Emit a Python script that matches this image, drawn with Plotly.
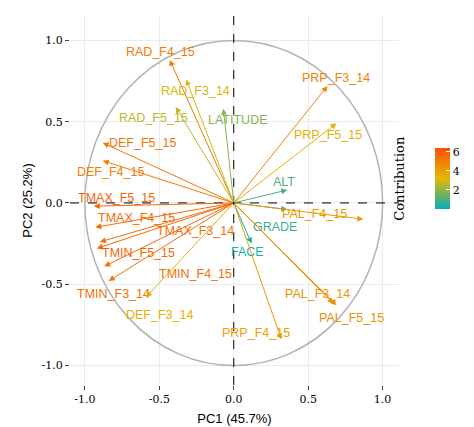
import plotly.graph_objects as go
from plotly.colors import sample_colorscale

variables = ["RAD_F4_15", "RAD_F3_14", "RAD_F5_15", "LATITUDE", "DEF_F5_15", "DEF_F4_15",
             "TMAX_F5_15", "TMAX_F4_15", "TMAX_F3_14", "TMIN_F5_15", "TMIN_F4_15", "TMIN_F3_14",
             "DEF_F3_14", "PRP_F3_14", "PRP_F5_15", "ALT", "GRADE", "PAL_F4_15", "FACE",
             "PAL_F3_14", "PAL_F5_15", "PRP_F4_15"]
pc1 = [-0.43, -0.32, -0.39, -0.07, -0.88, -0.88, -0.94, -0.93, -0.90, -0.92, -0.87, -0.84,
       -0.59, 0.63, 0.69, 0.36, 0.36, 0.87, 0.12, 0.67, 0.69, 0.32]
pc2 = [0.88, 0.76, 0.59, 0.58, 0.37, 0.26, -0.02, -0.15, -0.24, -0.28, -0.39, -0.48,
       -0.58, 0.72, 0.49, 0.08, -0.04, -0.10, -0.25, -0.62, -0.63, -0.84]
contrib = [5.0, 3.0, 2.6, 1.8, 5.2, 5.0, 5.7, 5.6, 5.4, 5.7, 5.5, 5.4,
           3.6, 4.8, 3.5, 1.0, 0.8, 4.2, 0.3, 4.3, 4.4, 4.0]

# where each label sits relative to its arrow tip (repel-like placement)
label_shift = {
    "RAD_F4_15": (-0.06, 0.05), "RAD_F3_14": (0.06, -0.07), "RAD_F5_15": (-0.15, -0.07),
    "LATITUDE": (0.10, -0.07), "DEF_F5_15": (0.27, 0.0), "DEF_F4_15": (0.05, -0.07),
    "TMAX_F5_15": (0.15, 0.05), "TMAX_F4_15": (0.28, 0.06), "TMAX_F3_14": (0.64, 0.07),
    "TMIN_F5_15": (0.28, -0.03), "TMIN_F4_15": (0.61, -0.05), "TMIN_F3_14": (0.03, -0.08),
    "DEF_F3_14": (0.09, -0.11), "PRP_F3_14": (0.06, 0.05), "PRP_F5_15": (-0.06, -0.07),
    "ALT": (-0.02, 0.05), "GRADE": (-0.08, -0.11), "PAL_F4_15": (-0.33, 0.03),
    "FACE": (-0.03, -0.05), "PAL_F3_14": (-0.11, 0.06), "PAL_F5_15": (0.10, -0.08),
    "PRP_F4_15": (-0.17, 0.04),
}

cmin, cmax = 0, 6.4
scale = [[0, "#00AFBB"], [0.5, "#E7B800"], [1, "#FC4E07"]]
colors = sample_colorscale(scale, [(c - cmin) / (cmax - cmin) for c in contrib])

fig = go.Figure()
fig.add_shape(type="circle", x0=-1, y0=-1, x1=1, y1=1, line=dict(color="#b3b3b3", width=1.5))
fig.add_shape(type="line", x0=0, x1=0, y0=-1.12, y1=1.15, line=dict(color="black", dash="dash", width=1))
fig.add_shape(type="line", x0=-1.1, x1=1.11, y0=0, y1=0, line=dict(color="black", dash="dash", width=1))

for name, x, y, col in zip(variables, pc1, pc2, colors):
    fig.add_annotation(x=x, y=y, ax=0, ay=0, xref="x", yref="y", axref="x", ayref="y",
                       showarrow=True, arrowhead=2, arrowsize=1.2, arrowwidth=1,
                       arrowcolor=col, text="")
    dx, dy = label_shift[name]
    fig.add_annotation(x=x + dx, y=y + dy, text=name, showarrow=False,
                       font=dict(family="Liberation Sans", size=12.5, color=col))

fig.add_trace(go.Scatter(
    x=[None], y=[None], mode="markers", showlegend=False,
    marker=dict(color=contrib, colorscale=scale, cmin=cmin, cmax=cmax, showscale=True,
                colorbar=dict(x=1.08, xanchor="left", y=0.56, yanchor="middle", len=0.22,
                              thickness=15, outlinewidth=0, tickvals=[2, 4, 6],
                              tickfont=dict(family="DejaVu Serif", size=11, color="black"),
                              ticks="inside", tickcolor="white", ticklen=4)),
))
fig.add_annotation(x=1.03, y=0.56, xref="paper", yref="paper", text="Contribution",
                   textangle=-90, showarrow=False,
                   font=dict(family="DejaVu Serif", size=13, color="black"))

axis_font = dict(family="Liberation Sans", size=13, color="black")
tick_font = dict(family="DejaVu Serif", size=11, color="black")
fig.update_xaxes(range=[-1.1, 1.11], tickvals=[-1, -0.5, 0, 0.5, 1],
                 ticktext=["-1.0", "-0.5", "0.0", "0.5", "1.0"], zeroline=False,
                 gridcolor="#ebebeb", title=dict(text="PC1 (45.7%)", font=axis_font, standoff=8),
                 tickfont=tick_font, ticks="outside", ticklen=4)
fig.update_yaxes(range=[-1.12, 1.15], tickvals=[-1, -0.5, 0, 0.5, 1],
                 ticktext=["-1.0", "-0.5", "0.0", "0.5", "1.0"], zeroline=False,
                 gridcolor="#ebebeb", title=dict(text="PC2 (25.2%)", font=axis_font, standoff=6),
                 tickfont=tick_font, ticks="outside", ticklen=4)
fig.update_layout(width=474, height=427, plot_bgcolor="white", paper_bgcolor="white",
                  margin=dict(l=62, r=69, t=8, b=50))
fig.write_html("out.html")
